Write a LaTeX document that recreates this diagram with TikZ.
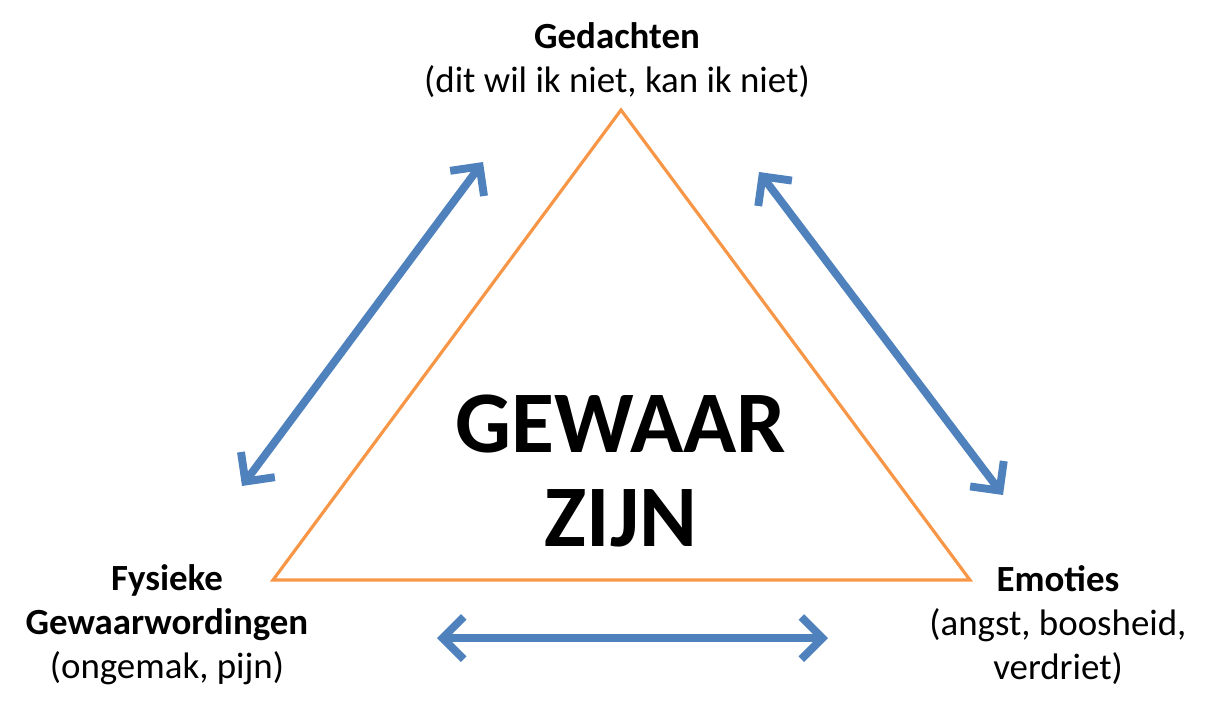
\documentclass[tikz,border=0pt]{standalone}
\usepackage{fontspec}
\setmainfont{Carlito}
\usetikzlibrary{arrows.meta}
\definecolor{tri}{HTML}{F79646}
\definecolor{arr}{HTML}{4F81BD}
\begin{document}
\begin{tikzpicture}[x=0.02cm,y=-0.02cm,
  lbl/.style={align=center,font=\fontsize{21}{25}\selectfont},
  big/.style={align=center,font=\fontsize{50}{50}\selectfont\bfseries},
  dbl/.style={draw=arr,line width=4.5pt,{Straight Barb[length=12pt,width=24pt,line width=4.5pt]}-{Straight Barb[length=12pt,width=24pt,line width=4.5pt]}}]
\useasboundingbox (0,0) rectangle (1217,714);
\coordinate (top) at (621,110);
\coordinate (left) at (273,580);
\coordinate (right) at (970,580);
\draw[tri,line width=1.8pt,line join=miter] (top) -- (right) -- (left) -- cycle;
\node[lbl] (g) at (617,60) {\textbf{Gedachten}\\(dit wil ik niet, kan ik niet)};
\node[lbl] (f) at (167,625) {\textbf{Fysieke}\\\textbf{Gewaarwordingen}\\(ongemak, pijn)};
\node[lbl] (e) at (1058,625) {\textbf{Emoties}\\(angst, boosheid,\\verdriet)};
\node[big] (c) at (621,424) {GEWAAR};
\node[big] (z) at (621,518) {ZIJN};
\coordinate (a1) at (483,162); \coordinate (a2) at (242,486);
\coordinate (b1) at (759,172); \coordinate (b2) at (1003,495);
\coordinate (c1) at (437,638); \coordinate (c2) at (828,638);
\draw[dbl] (a1) -- (a2);
\draw[dbl] (b1) -- (b2);
\draw[dbl] (c1) -- (c2);
\end{tikzpicture}
\end{document}
